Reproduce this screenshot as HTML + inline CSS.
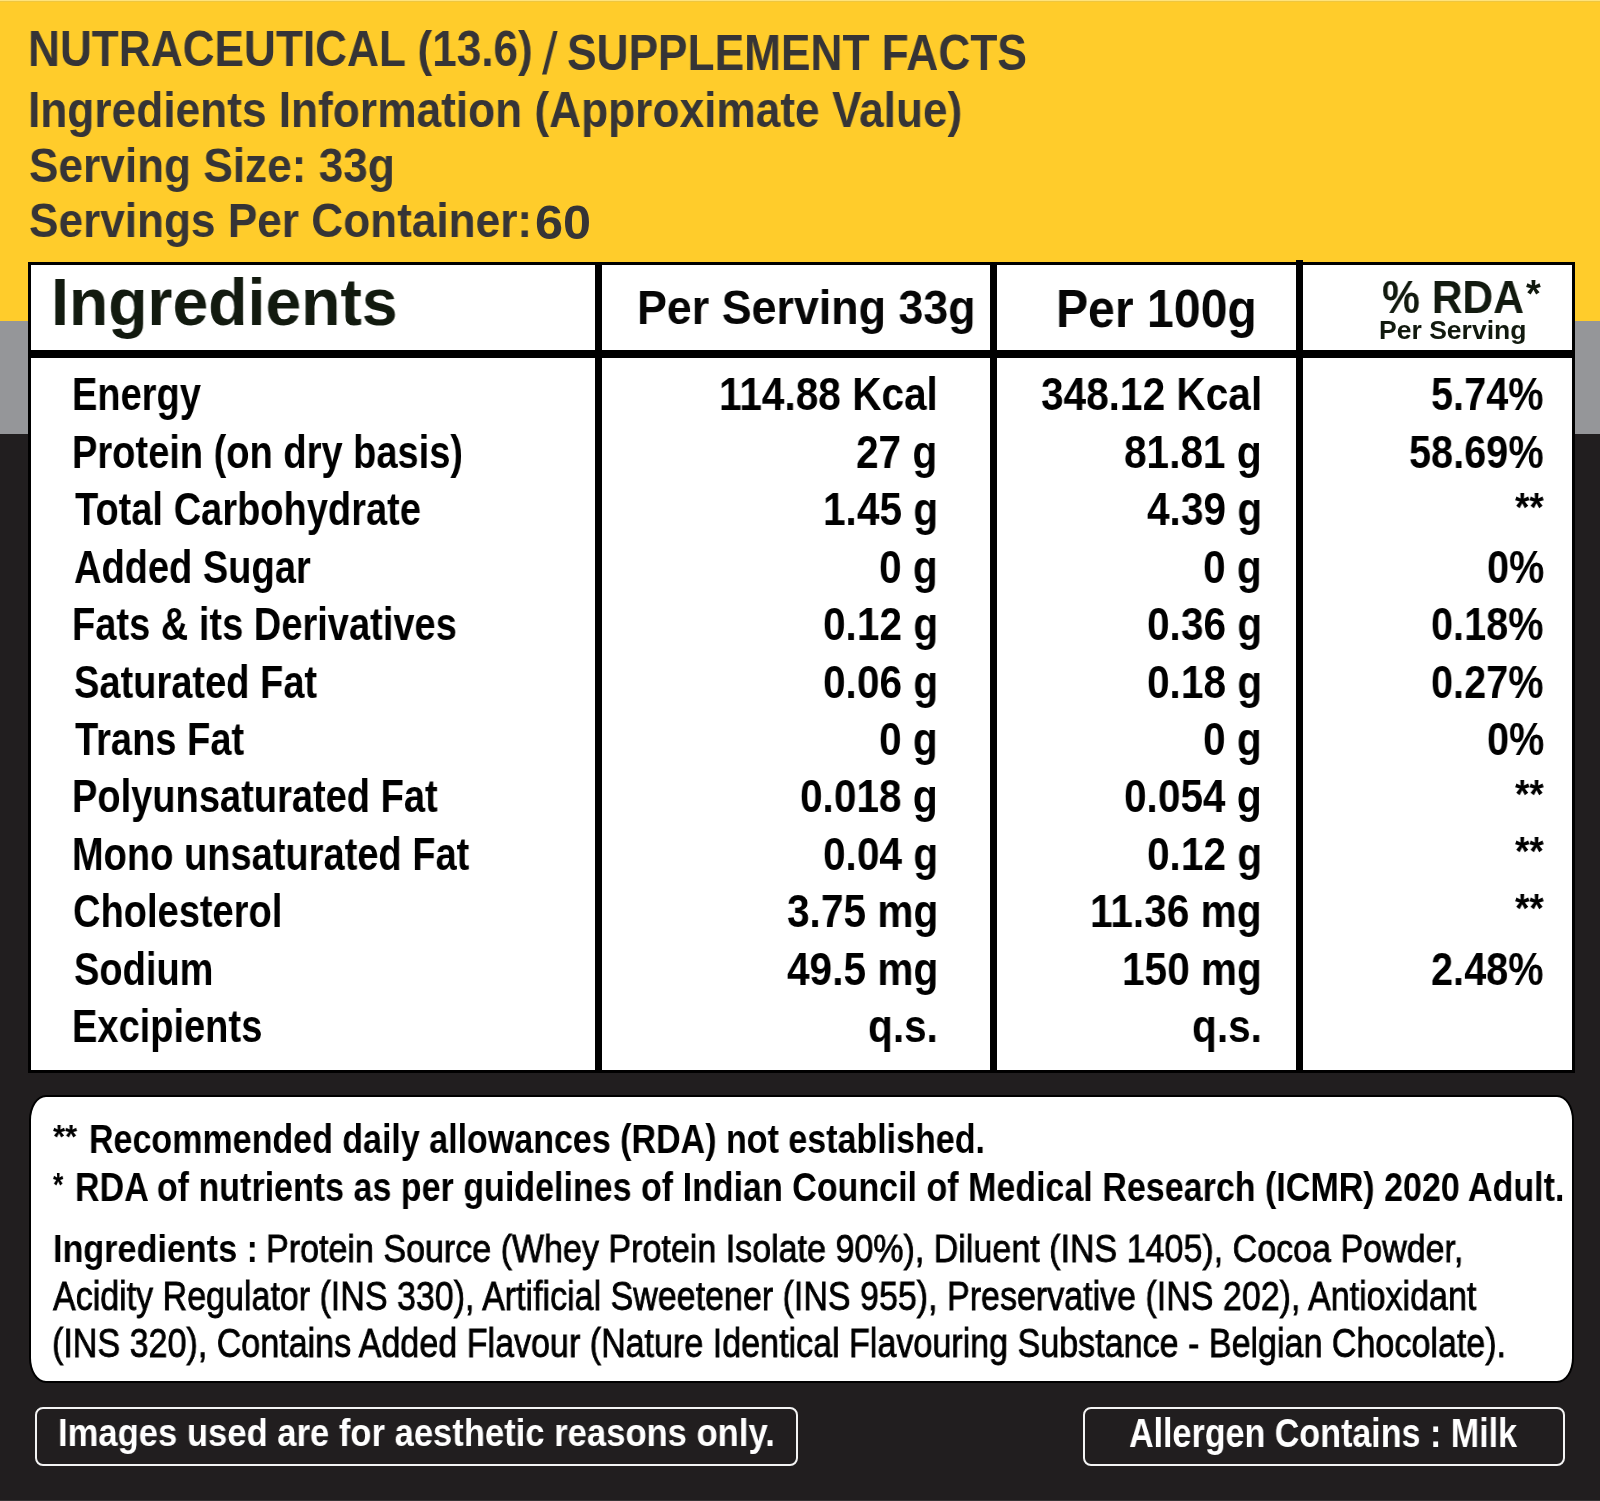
<!DOCTYPE html>
<html><head><meta charset="utf-8">
<style>
html,body{margin:0;padding:0;}
body{width:1600px;height:1501px;overflow:hidden;position:relative;background:#211e1f;font-family:"Liberation Sans",sans-serif;}
.b{position:absolute;}
.t{position:absolute;white-space:pre;line-height:1;transform-origin:0 0;will-change:transform;font-family:"Liberation Sans",sans-serif;}
</style></head><body>
<div class="b" style="left:0;top:0;width:1600px;height:321px;background:#ffcc2b"></div>
<div class="b" style="left:0;top:321px;width:1600px;height:113px;background:#959699"></div>
<div class="b" style="left:28px;top:262px;width:1547px;height:811px;background:#fff;border:3px solid #000;box-sizing:border-box"></div>
<div class="b" style="left:28px;top:350px;width:1547px;height:8px;background:#000"></div>
<div class="b" style="left:595px;top:262px;width:7px;height:811px;background:#000"></div>
<div class="b" style="left:990px;top:262px;width:7px;height:811px;background:#000"></div>
<div class="b" style="left:1296px;top:260px;width:7px;height:813px;background:#000"></div>
<div class="b" style="left:29px;top:1095px;width:1545px;height:288px;background:#fff;border:2px solid #000;box-sizing:border-box;border-radius:17px / 25px"></div>
<div class="b" style="left:35px;top:1407px;width:763px;height:59px;border:2px solid #f4f4f4;box-sizing:border-box;border-radius:8px"></div>
<div class="b" style="left:1083px;top:1407px;width:482px;height:59px;border:2px solid #f4f4f4;box-sizing:border-box;border-radius:8px"></div>
<div class="b" style="left:0;top:0;width:1600px;height:1px;background:#ffe37a"></div>
<div class="b" style="left:0;top:1px;width:1600px;height:1px;background:#eec640"></div>
<div class="b" style="left:0;top:1500px;width:1600px;height:1px;background:#373536"></div>
<div class="t" style="left:27.60px;top:24.10px;font-size:49.419px;font-weight:bold;color:#363436;transform:scaleX(0.89420)">NUTRACEUTICAL (13.6)</div>
<div class="t" style="left:542.30px;top:24.27px;font-size:59.600px;font-weight:normal;color:#363436;transform:scaleX(0.94205)">/</div>
<div class="t" style="left:567.30px;top:27.60px;font-size:49.419px;font-weight:bold;color:#363436;transform:scaleX(0.89584)">SUPPLEMENT FACTS</div>
<div class="t" style="left:27.70px;top:85.60px;font-size:49.565px;font-weight:bold;color:#363436;transform:scaleX(0.89317)">Ingredients Information (Approximate Value)</div>
<div class="t" style="left:28.60px;top:140.60px;font-size:48.838px;font-weight:bold;color:#363436;transform:scaleX(0.90475)">Serving Size: 33g</div>
<div class="t" style="left:28.60px;top:195.50px;font-size:48.983px;font-weight:bold;color:#363436;transform:scaleX(0.90184)">Servings Per Container:</div>
<div class="t" style="left:534.60px;top:197.50px;font-size:48.257px;font-weight:bold;color:#363436;transform:scaleX(1.04448)">60</div>
<div class="t" style="left:51.40px;top:268.60px;font-size:66.280px;font-weight:bold;color:#121a0f;transform:scaleX(0.97050)">Ingredients</div>
<div class="t" style="left:636.70px;top:283.30px;font-size:48.111px;font-weight:bold;color:#060606;transform:scaleX(0.93109)">Per Serving 33g</div>
<div class="t" style="left:1055.75px;top:282.00px;font-size:53.780px;font-weight:bold;color:#060606;transform:scaleX(0.89595)">Per 100g</div>
<div class="t" style="left:1382.10px;top:274.10px;font-size:46.658px;font-weight:bold;color:#121a0f;transform:scaleX(0.91342)">% RDA</div>
<div class="t" style="left:1525.50px;top:275.20px;font-size:38.000px;font-weight:bold;color:#121a0f;transform:scaleX(0.97057)">*</div>
<div class="t" style="left:1378.60px;top:317.50px;font-size:25.073px;font-weight:bold;color:#121a0f;transform:scaleX(1.05813)">Per Serving</div>
<div class="t" style="left:72.20px;top:371.40px;font-size:46.948px;font-weight:bold;color:#000;transform:scaleX(0.81054)">Energy</div>
<div class="t" style="left:719.10px;top:371.40px;font-size:46.948px;font-weight:bold;color:#000;transform:scaleX(0.86465)">114.88 Kcal</div>
<div class="t" style="left:1041.20px;top:371.40px;font-size:46.948px;font-weight:bold;color:#000;transform:scaleX(0.86471)">348.12 Kcal</div>
<div class="t" style="left:1431.10px;top:371.40px;font-size:46.948px;font-weight:bold;color:#000;transform:scaleX(0.84556)">5.74%</div>
<div class="t" style="left:72.20px;top:428.82px;font-size:46.948px;font-weight:bold;color:#000;transform:scaleX(0.81054)">Protein (on dry basis)</div>
<div class="t" style="left:856.30px;top:428.82px;font-size:46.948px;font-weight:bold;color:#000;transform:scaleX(0.86465)">27 g</div>
<div class="t" style="left:1124.10px;top:428.82px;font-size:46.948px;font-weight:bold;color:#000;transform:scaleX(0.86471)">81.81 g</div>
<div class="t" style="left:1409.00px;top:428.82px;font-size:46.948px;font-weight:bold;color:#000;transform:scaleX(0.84556)">58.69%</div>
<div class="t" style="left:75.20px;top:486.24px;font-size:46.948px;font-weight:bold;color:#000;transform:scaleX(0.81054)">Total Carbohydrate</div>
<div class="t" style="left:823.30px;top:486.24px;font-size:46.948px;font-weight:bold;color:#000;transform:scaleX(0.86465)">1.45 g</div>
<div class="t" style="left:1147.10px;top:486.24px;font-size:46.948px;font-weight:bold;color:#000;transform:scaleX(0.86471)">4.39 g</div>
<div class="t" style="left:1515.00px;top:486.50px;font-size:40.000px;font-weight:bold;color:#000;transform:scaleX(0.92377)">**</div>
<div class="t" style="left:74.20px;top:543.66px;font-size:46.948px;font-weight:bold;color:#000;transform:scaleX(0.81054)">Added Sugar</div>
<div class="t" style="left:879.30px;top:543.66px;font-size:46.948px;font-weight:bold;color:#000;transform:scaleX(0.86465)">0 g</div>
<div class="t" style="left:1203.10px;top:543.66px;font-size:46.948px;font-weight:bold;color:#000;transform:scaleX(0.86471)">0 g</div>
<div class="t" style="left:1487.10px;top:543.66px;font-size:46.948px;font-weight:bold;color:#000;transform:scaleX(0.84556)">0%</div>
<div class="t" style="left:72.20px;top:601.08px;font-size:46.948px;font-weight:bold;color:#000;transform:scaleX(0.81054)">Fats &amp; its Derivatives</div>
<div class="t" style="left:823.30px;top:601.08px;font-size:46.948px;font-weight:bold;color:#000;transform:scaleX(0.86465)">0.12 g</div>
<div class="t" style="left:1147.10px;top:601.08px;font-size:46.948px;font-weight:bold;color:#000;transform:scaleX(0.86471)">0.36 g</div>
<div class="t" style="left:1431.10px;top:601.08px;font-size:46.948px;font-weight:bold;color:#000;transform:scaleX(0.84556)">0.18%</div>
<div class="t" style="left:74.20px;top:658.50px;font-size:46.948px;font-weight:bold;color:#000;transform:scaleX(0.81054)">Saturated Fat</div>
<div class="t" style="left:823.30px;top:658.50px;font-size:46.948px;font-weight:bold;color:#000;transform:scaleX(0.86465)">0.06 g</div>
<div class="t" style="left:1147.10px;top:658.50px;font-size:46.948px;font-weight:bold;color:#000;transform:scaleX(0.86471)">0.18 g</div>
<div class="t" style="left:1431.10px;top:658.50px;font-size:46.948px;font-weight:bold;color:#000;transform:scaleX(0.84556)">0.27%</div>
<div class="t" style="left:75.20px;top:715.92px;font-size:46.948px;font-weight:bold;color:#000;transform:scaleX(0.81054)">Trans Fat</div>
<div class="t" style="left:879.30px;top:715.92px;font-size:46.948px;font-weight:bold;color:#000;transform:scaleX(0.86465)">0 g</div>
<div class="t" style="left:1203.10px;top:715.92px;font-size:46.948px;font-weight:bold;color:#000;transform:scaleX(0.86471)">0 g</div>
<div class="t" style="left:1487.10px;top:715.92px;font-size:46.948px;font-weight:bold;color:#000;transform:scaleX(0.84556)">0%</div>
<div class="t" style="left:72.20px;top:773.34px;font-size:46.948px;font-weight:bold;color:#000;transform:scaleX(0.81054)">Polyunsaturated Fat</div>
<div class="t" style="left:800.30px;top:773.34px;font-size:46.948px;font-weight:bold;color:#000;transform:scaleX(0.86465)">0.018 g</div>
<div class="t" style="left:1124.10px;top:773.34px;font-size:46.948px;font-weight:bold;color:#000;transform:scaleX(0.86471)">0.054 g</div>
<div class="t" style="left:1515.00px;top:773.60px;font-size:40.000px;font-weight:bold;color:#000;transform:scaleX(0.92377)">**</div>
<div class="t" style="left:72.20px;top:830.76px;font-size:46.948px;font-weight:bold;color:#000;transform:scaleX(0.81054)">Mono unsaturated Fat</div>
<div class="t" style="left:823.30px;top:830.76px;font-size:46.948px;font-weight:bold;color:#000;transform:scaleX(0.86465)">0.04 g</div>
<div class="t" style="left:1147.10px;top:830.76px;font-size:46.948px;font-weight:bold;color:#000;transform:scaleX(0.86471)">0.12 g</div>
<div class="t" style="left:1515.00px;top:831.02px;font-size:40.000px;font-weight:bold;color:#000;transform:scaleX(0.92377)">**</div>
<div class="t" style="left:73.20px;top:888.18px;font-size:46.948px;font-weight:bold;color:#000;transform:scaleX(0.81054)">Cholesterol</div>
<div class="t" style="left:787.30px;top:888.18px;font-size:46.948px;font-weight:bold;color:#000;transform:scaleX(0.86465)">3.75 mg</div>
<div class="t" style="left:1090.10px;top:888.18px;font-size:46.948px;font-weight:bold;color:#000;transform:scaleX(0.86471)">11.36 mg</div>
<div class="t" style="left:1515.00px;top:888.44px;font-size:40.000px;font-weight:bold;color:#000;transform:scaleX(0.92377)">**</div>
<div class="t" style="left:74.20px;top:945.60px;font-size:46.948px;font-weight:bold;color:#000;transform:scaleX(0.81054)">Sodium</div>
<div class="t" style="left:787.30px;top:945.60px;font-size:46.948px;font-weight:bold;color:#000;transform:scaleX(0.86465)">49.5 mg</div>
<div class="t" style="left:1122.10px;top:945.60px;font-size:46.948px;font-weight:bold;color:#000;transform:scaleX(0.86471)">150 mg</div>
<div class="t" style="left:1431.10px;top:945.60px;font-size:46.948px;font-weight:bold;color:#000;transform:scaleX(0.84556)">2.48%</div>
<div class="t" style="left:72.20px;top:1003.02px;font-size:46.948px;font-weight:bold;color:#000;transform:scaleX(0.81054)">Excipients</div>
<div class="t" style="left:868.30px;top:1003.02px;font-size:46.948px;font-weight:bold;color:#000;transform:scaleX(0.86465)">q.s.</div>
<div class="t" style="left:1192.10px;top:1003.02px;font-size:46.948px;font-weight:bold;color:#000;transform:scaleX(0.86471)">q.s.</div>
<div class="t" style="left:53.30px;top:1119.10px;font-size:34.000px;font-weight:bold;color:#000;transform:scaleX(0.90837)">**</div>
<div class="t" style="left:88.60px;top:1120.20px;font-size:40.262px;font-weight:bold;color:#000;transform:scaleX(0.84507)">Recommended daily allowances (RDA) not established.</div>
<div class="t" style="left:53.30px;top:1166.55px;font-size:34.000px;font-weight:bold;color:#000;transform:scaleX(0.78233)">*</div>
<div class="t" style="left:75.30px;top:1166.90px;font-size:41.134px;font-weight:bold;color:#000;transform:scaleX(0.82750)">RDA of nutrients as per guidelines of Indian Council of Medical Research (ICMR) 2020 Adult.</div>
<div class="t" style="left:52.50px;top:1229.00px;font-size:39.245px;font-weight:bold;color:#000;transform:scaleX(0.87071)">Ingredients :</div>
<div class="t" style="left:266.00px;top:1229.00px;font-size:39.245px;font-weight:normal;color:#000;transform:scaleX(0.86745);-webkit-text-stroke:0.80px #000">Protein Source (Whey Protein Isolate 90%), Diluent (INS 1405), Cocoa Powder,</div>
<div class="t" style="left:53.00px;top:1275.50px;font-size:41.062px;font-weight:normal;color:#000;transform:scaleX(0.82852);-webkit-text-stroke:0.80px #000">Acidity Regulator (INS 330), Artificial Sweetener (INS 955), Preservative (INS 202), Antioxidant</div>
<div class="t" style="left:51.75px;top:1323.00px;font-size:41.062px;font-weight:normal;color:#000;transform:scaleX(0.82982);-webkit-text-stroke:0.80px #000">(INS 320), Contains Added Flavour (Nature Identical Flavouring Substance - Belgian Chocolate).</div>
<div class="t" style="left:58.25px;top:1412.90px;font-size:39.463px;font-weight:bold;color:#ffffff;transform:scaleX(0.87710)">Images used are for aesthetic reasons only.</div>
<div class="t" style="left:1129.00px;top:1411.70px;font-size:41.570px;font-weight:bold;color:#ffffff;transform:scaleX(0.81969)">Allergen Contains : Milk</div>
</body></html>
